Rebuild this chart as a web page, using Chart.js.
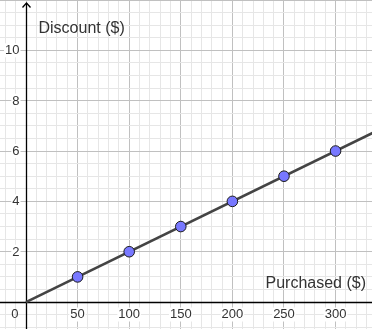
<!DOCTYPE html>
<html>
<head>
<meta charset="utf-8">
<script src="https://cdn.jsdelivr.net/npm/chart.js@4/dist/chart.umd.min.js"></script>
<style>
  html, body { margin: 0; padding: 0; background: #ffffff; }
  #wrap { width: 372px; height: 329px; position: relative; }
</style>
</head>
<body>
<div id="wrap"><canvas id="c"></canvas></div>
<script>
// ---- data ----
const purchased = [50, 100, 150, 200, 250, 300];
const discount = [1, 2, 3, 4, 5, 6];
const lineX = [0, 350];
const lineY = [0, 7];
const xTickLabels = [50, 100, 150, 200, 250, 300];
const yTickLabels = [2, 4, 6, 8, 10];
const xTitle = 'Purchased ($)';
const yTitle = 'Discount ($)';

const X_MIN = -25.2, X_MAX = 335.3, Y_MIN = -1.07, Y_MAX = 12.0;
const FONT = '"Liberation Sans", Arial, sans-serif';

function gridTicks(min, max, step) {
  const out = [];
  for (let v = Math.ceil(min / step) * step; v <= max + 1e-9; v += step) {
    out.push({ value: Math.round(v * 1000) / 1000 });
  }
  return out;
}

const axesPlugin = {
  id: 'axesPlugin',
  beforeDatasetsDraw(chart) {
    const ctx = chart.ctx;
    const xs = chart.scales.x, ys = chart.scales.y;
    const ox = Math.round(xs.getPixelForValue(0)) + 0.5;
    const oy = Math.round(ys.getPixelForValue(0)) + 0.5;
    const area = chart.chartArea;
    ctx.save();
    ctx.strokeStyle = '#000';
    ctx.lineWidth = 1.3;
    ctx.beginPath();
    ctx.moveTo(area.left, oy); ctx.lineTo(area.right, oy);
    ctx.moveTo(ox, area.bottom); ctx.lineTo(ox, area.top + 3);
    ctx.stroke();
    ctx.beginPath();
    ctx.moveTo(ox - 4, area.top + 7.5);
    ctx.lineTo(ox, area.top + 3);
    ctx.lineTo(ox + 4, area.top + 7.5);
    ctx.stroke();

    ctx.font = '13px ' + FONT;
    ctx.fillStyle = '#333';
    ctx.textAlign = 'center';
    ctx.textBaseline = 'middle';
    xTickLabels.forEach(v => {
      const px = xs.getPixelForValue(v);
      const t = String(v);
      const w = ctx.measureText(t).width;
      ctx.fillStyle = '#fff';
      ctx.fillRect(px - w / 2 - 1, oy + 5, w + 2, 14);
      ctx.fillStyle = '#333';
      ctx.fillText(t, px, oy + 12);
    });
    ctx.textAlign = 'right';
    yTickLabels.forEach(v => {
      const py = ys.getPixelForValue(v);
      const t = String(v);
      const w = ctx.measureText(t).width;
      ctx.fillStyle = '#fff';
      ctx.fillRect(ox - 7 - w - 1, py - 7, w + 2, 14);
      ctx.fillStyle = '#333';
      ctx.fillText(t, ox - 7, py + 0.5);
    });
    ctx.fillText('0', ox - 8, oy + 12);

    ctx.font = '16px ' + FONT;
    ctx.fillStyle = '#333';
    ctx.textBaseline = 'alphabetic';
    ctx.textAlign = 'left';
    ctx.fillText(yTitle, ox + 12, area.top + 33);
    ctx.textAlign = 'right';
    ctx.fillText(xTitle, area.right - 6, oy - 15);
    ctx.restore();
  }
};

new Chart(document.getElementById('c'), {
  type: 'scatter',
  data: {
    datasets: [
      {
        data: lineX.map((x, i) => ({ x, y: lineY[i] })),
        showLine: true,
        borderColor: '#444444',
        borderWidth: 2.6,
        pointRadius: 0,
        pointHoverRadius: 0,
        order: 2
      },
      {
        data: purchased.map((x, i) => ({ x, y: discount[i] })),
        backgroundColor: '#7878ff',
        borderColor: '#1a1a1a',
        borderWidth: 1,
        pointRadius: 5.3,
        order: 1
      }
    ]
  },
  options: {
    responsive: true,
    maintainAspectRatio: false,
    animation: false,
    layout: { padding: 0, autoPadding: false },
    plugins: { legend: { display: false }, tooltip: { enabled: false } },
    scales: {
      x: {
        type: 'linear', min: X_MIN, max: X_MAX,
        afterBuildTicks: s => { s.ticks = gridTicks(X_MIN, X_MAX, 10); },
        afterFit: s => { s.height = 0; },
        ticks: { display: false },
        border: { display: false },
        grid: {
          drawTicks: false,
          lineWidth: 1,
          color: c => (c.tick && Math.abs(c.tick.value % 50) < 1e-6) ? '#c0c0c0' : '#e6e6e6'
        }
      },
      y: {
        type: 'linear', min: Y_MIN, max: Y_MAX,
        afterBuildTicks: s => { s.ticks = gridTicks(Y_MIN, Y_MAX, 0.5); },
        afterFit: s => { s.width = 0; },
        ticks: { display: false },
        border: { display: false },
        grid: {
          drawTicks: false,
          lineWidth: 1,
          color: c => (c.tick && Math.abs(c.tick.value % 2) < 1e-6) ? '#c0c0c0' : '#e6e6e6'
        }
      }
    }
  },
  plugins: [axesPlugin]
});
</script>
</body>
</html>
